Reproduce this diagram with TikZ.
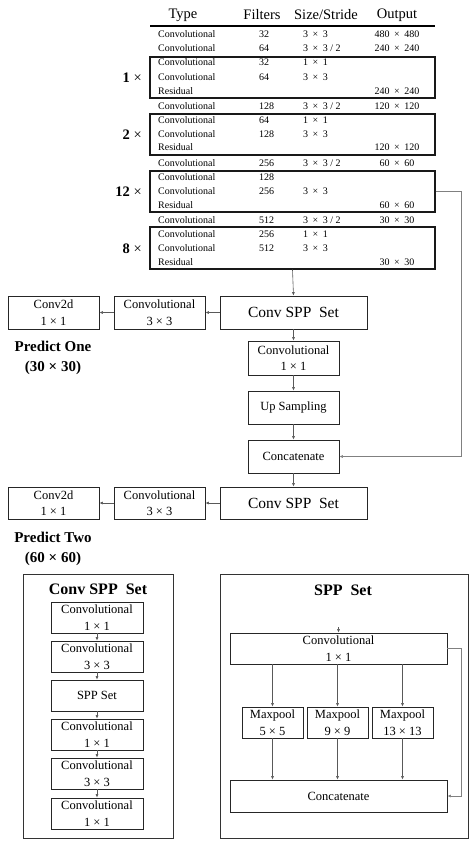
\documentclass[tikz,border=0pt]{standalone}
\usepackage{fontspec}
\setmainfont{Liberation Serif}
\usetikzlibrary{arrows.meta}
\newcommand{\tx}{\hspace{0.45em}×\hspace{0.45em}}
\begin{document}
\begin{tikzpicture}[x=1pt,y=-1pt,
  box/.style={draw=black!85, line width=0.8pt, minimum width=91pt, minimum height=33pt, inner sep=0pt, align=center, font=\fontsize{12.5}{16.5}\selectfont},
  tbox/.style={draw=black!90, line width=1.3pt, minimum width=285pt, inner sep=0pt},
  cell/.style={inner sep=0pt, text height=7pt, text depth=2pt, font=\fontsize{10}{10}\selectfont},
  head/.style={inner sep=0pt, font=\fontsize{14.5}{16}\selectfont},
  mult/.style={inner sep=0pt, anchor=east, font=\fontsize{14.5}{16}\selectfont},
  lbl/.style={inner sep=0pt, align=center, font=\bfseries\fontsize{15}{20}\selectfont},
  frame/.style={draw=black!80, line width=0.8pt},
  arr/.style={draw=black!65, line width=0.6pt, -{Latex[length=3.5pt,width=3pt]}},
  garr/.style={draw=black!50, line width=0.6pt, -{Latex[length=3.5pt,width=3pt]}}
]
\useasboundingbox (0,0) rectangle (474,847);

% ---- table header
\node[head] (hT) at (183,15) {Type};
\node[head] (hF) at (262,15) {Filters};
\node[head] (hS) at (326,15) {Size/Stride};
\node[head] (hO) at (397,15) {Output};
\draw[line width=1.5pt] (150,26) -- (435,26);

% ---- table rows
\foreach \y/\t/\f/\s/\o [count=\i] in {
35/Convolutional/32/{3\tx3}/{480\tx480},
49/Convolutional/64/{3\tx3 / 2}/{240\tx240},
63/Convolutional/32/{1\tx1}/{},
78/Convolutional/64/{3\tx3}/{},
92/Residual/{}/{}/{240\tx240},
107/Convolutional/128/{3\tx3 / 2}/{120\tx120},
121/Convolutional/64/{1\tx1}/{},
135/Convolutional/128/{3\tx3}/{},
148/Residual/{}/{}/{120\tx120},
164/Convolutional/256/{3\tx3 / 2}/{60\tx60},
178/Convolutional/128/{}/{},
192/Convolutional/256/{3\tx3}/{},
206/Residual/{}/{}/{60\tx60},
221/Convolutional/512/{3\tx3 / 2}/{30\tx30},
235/Convolutional/256/{1\tx1}/{},
249/Convolutional/512/{3\tx3}/{},
263/Residual/{}/{}/{30\tx30}}{
  \node[cell,anchor=west] (t\i) at (158,\y) {\t};
  \node[cell,anchor=west] (f\i) at (259,\y) {\f};
  \node[cell,anchor=west] (s\i) at (303,\y) {\s};
  \node[cell] (o\i) at (397,\y) {\o};
}

% ---- residual boxes
\node[tbox, minimum height=41pt] (b1) at (292.5,77.5) {};
\node[tbox, minimum height=41pt] (b2) at (292.5,134.5) {};
\node[tbox, minimum height=41pt] (b3) at (292.5,191.5) {};
\node[tbox, minimum height=42pt] (b4) at (292.5,248) {};

\node[mult] (m1) at (142,78) {\textbf{1} ×};
\node[mult] (m2) at (142,135) {\textbf{2} ×};
\node[mult] (m3) at (142,192) {\textbf{12} ×};
\node[mult] (m4) at (142,249) {\textbf{8} ×};

% ---- main flow
\node[box] (p1) at (53.5,312.5) {Conv2d\\1 × 1};
\node[box] (c1) at (159.5,312.5) {Convolutional\\3 × 3};
\node[box, minimum width=147pt, font=\fontsize{15.5}{18}\selectfont] (s1) at (293.5,312.5) {Conv SPP\enspace Set};
\node[box, minimum height=34pt] (k1) at (293.5,358) {Convolutional\\1 × 1};
\node[box] (up) at (293.5,407.5) {Up Sampling};
\node[box] (cat) at (293.5,456.5) {Concatenate};
\node[box, minimum height=32pt] (p2) at (53.5,503) {Conv2d\\1 × 1};
\node[box, minimum height=32pt] (c2) at (159.5,503) {Convolutional\\3 × 3};
\node[box, minimum width=147pt, minimum height=32pt, font=\fontsize{15.5}{18}\selectfont] (s2) at (293.5,503) {Conv SPP\enspace Set};

\node[lbl] (l1) at (53,358) {Predict One\\(30 × 30)};
\node[lbl] (l2) at (53,548.5) {Predict Two\\(60 × 60)};

\draw[arr] (b4.south) -- (s1.north);
\draw[arr] (s1.west) -- (c1.east);
\draw[arr] (c1.west) -- (p1.east);
\draw[arr] (s1.south) -- (k1.north);
\draw[arr] (k1.south) -- (up.north);
\draw[arr] (up.south) -- (cat.north);
\draw[arr] (cat.south) -- (s2.north);
\draw[arr] (s2.west) -- (c2.east);
\draw[arr] (c2.west) -- (p2.east);
\coordinate (rr) at (461,0);
\draw[garr] (b3.east) -- (b3.east -| rr) |- (cat.east);

% ---- Conv SPP Set detail
\draw[frame] (23,574) rectangle (173,838);
\node[lbl, font=\bfseries\fontsize{16}{18}\selectfont] (ttl1) at (98,589.5) {Conv SPP\enspace Set};
\node[box, minimum width=92pt, minimum height=31pt] (d1) at (97,617.5) {Convolutional\\1 × 1};
\node[box, minimum width=92pt, minimum height=31pt] (d2) at (97,656.5) {Convolutional\\3 × 3};
\node[box, minimum width=92pt, minimum height=31pt] (d3) at (97,695.5) {SPP Set};
\node[box, minimum width=92pt, minimum height=31pt] (d4) at (97,734.5) {Convolutional\\1 × 1};
\node[box, minimum width=92pt, minimum height=31pt] (d5) at (97,773.5) {Convolutional\\3 × 3};
\node[box, minimum width=92pt, minimum height=31pt] (d6) at (97,813.5) {Convolutional\\1 × 1};
\draw[arr] (d1.south) -- (d2.north);
\draw[arr] (d2.south) -- (d3.north);
\draw[arr] (d3.south) -- (d4.north);
\draw[arr] (d4.south) -- (d5.north);
\draw[arr] (d5.south) -- (d6.north);

% ---- SPP Set detail
\draw[frame] (220,574) rectangle (468,838);
\node[lbl, font=\bfseries\fontsize{16}{18}\selectfont] (ttl2) at (343,590) {SPP\enspace Set};
\node[box, minimum width=217pt, minimum height=31pt] (e0) at (338.5,648.5) {Convolutional\\1 × 1};
\coordinate (ein) at (338.5,627);
\node[box, minimum width=61pt, minimum height=31pt] (mp1) at (272.5,722.5) {Maxpool\\5 × 5};
\node[box, minimum width=61pt, minimum height=31pt] (mp2) at (337.5,722.5) {Maxpool\\9 × 9};
\node[box, minimum width=61pt, minimum height=31pt] (mp3) at (402.5,722.5) {Maxpool\\13 × 13};
\node[box, minimum width=217pt, minimum height=32pt] (ecat) at (338.5,796) {Concatenate};
\draw[arr] (ein) -- (e0.north);
\draw[arr] (e0.south -| mp1) -- (mp1.north);
\draw[arr] (e0.south -| mp2) -- (mp2.north);
\draw[arr] (e0.south -| mp3) -- (mp3.north);
\draw[arr] (mp1.south) -- (ecat.north -| mp1);
\draw[arr] (mp2.south) -- (ecat.north -| mp2);
\draw[arr] (mp3.south) -- (ecat.north -| mp3);
\draw[garr] (e0.east) -- (e0.east -| rr) |- (ecat.east);
\end{tikzpicture}
\end{document}
